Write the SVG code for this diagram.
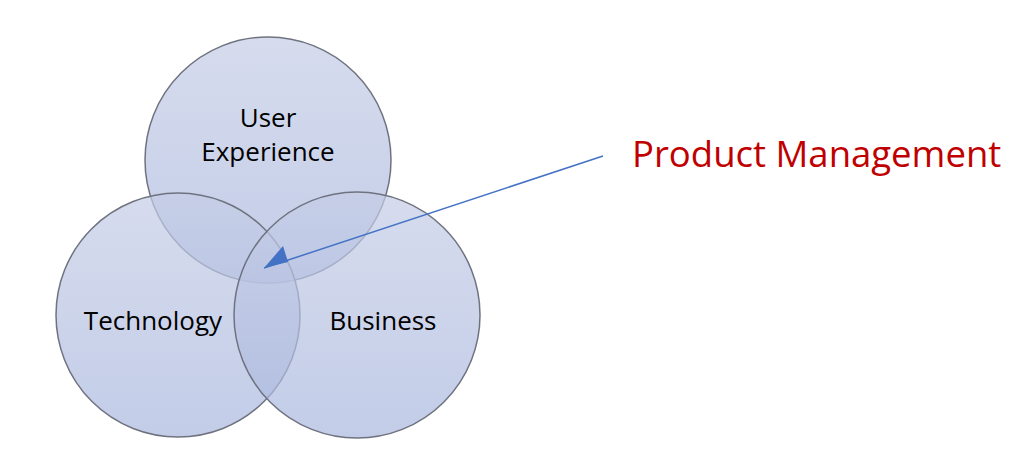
<svg xmlns="http://www.w3.org/2000/svg" width="1031" height="454" viewBox="0 0 1031 454">
<defs>
<linearGradient id="g" x1="0" y1="0" x2="0" y2="1">
<stop offset="0" stop-color="#c5cde6" stop-opacity="0.7"/>
<stop offset="1" stop-color="#a9b7de" stop-opacity="0.7"/>
</linearGradient>
</defs>
<style>
.c{fill:url(#g);stroke:#6f7380;stroke-width:1.5}
.t{font-family:"Open Sans","Liberation Sans",sans-serif;font-size:26px;fill:#000;text-anchor:middle}
</style>
<rect width="1031" height="454" fill="#fff"/>
<g id="ux"><circle class="c" cx="268" cy="160" r="123"/><text class="t" x="268" y="127">User</text><text class="t" x="268" y="161">Experience</text></g>
<g id="tech"><circle class="c" cx="178" cy="315" r="122"/><text class="t" x="153" y="330">Technology</text></g>
<g id="biz"><circle class="c" cx="357" cy="315" r="123"/><text class="t" x="383" y="330">Business</text></g>
<g id="connectors"><line x1="603" y1="156" x2="264" y2="268" stroke="#4472c4" stroke-width="1.5"/><path d="M264,268 L283,246 L288,262 Z" fill="#4472c4"/></g>
<g id="pm"><text x="632" y="167" font-family="Open Sans,Liberation Sans,sans-serif" font-size="36.5" fill="#c00000">Product Management</text></g>
</svg>
